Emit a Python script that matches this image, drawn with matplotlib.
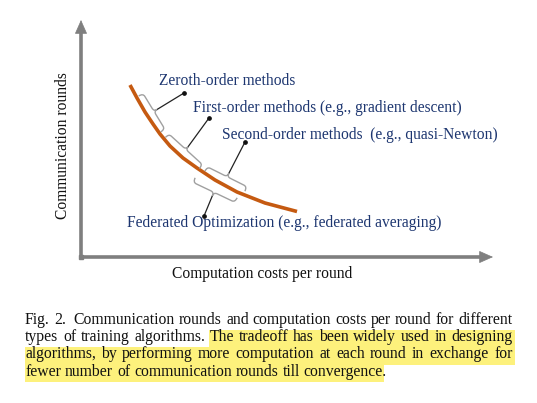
import numpy as np
import matplotlib
matplotlib.use("Agg")
import matplotlib.pyplot as plt
from matplotlib.path import Path
from matplotlib.patches import PathPatch

# schematic is drawn in pixel-like coordinates of the 537x403 picture
W, H = 537, 403
serif = "Liberation Serif"
navy = "#1d3670"
orange = "#c55a11"
axis_gray = "#7f7f7f"
brace_gray = "#a0a0a0"

# tradeoff curve
curve_x = [130, 137, 145, 153, 160, 170, 183, 197, 215, 237, 265, 297]
curve_y = [85, 98, 112, 124, 134, 146, 158, 168, 180, 192, 203, 211.5]

# method groups: brace ends, side of the curve, label dot, label position
labels = ["Zeroth-order methods",
          "First-order methods (e.g., gradient descent)",
          "Second-order methods  (e.g., quasi-Newton)",
          "Federated Optimization (e.g., federated averaging)"]
brace_start = [(137, 97), (164, 139), (204, 173), (196, 176)]
brace_end = [(159, 133), (198, 170), (244, 193), (238, 196)]
brace_side = [1, 1, 1, -1]
dot_xy = [(184, 93), (209, 118), (245, 142), (204, 216)]
label_xy = [(159, 85), (193, 112.5), (222, 139), (127, 227)]

xlabel = "Computation costs per round"
ylabel = "Communication rounds"

caption = [
    "Fig. 2.  Communication rounds and computation costs per round for different",
    "types of training algorithms. The tradeoff has been widely used in designing",
    "algorithms, by performing more computation at each round in exchange for",
    "fewer number of communication rounds till convergence.",
]
caption_base = [323.5, 341, 358.5, 376]


def brace_path(p0, p1, side, lift=2.0, h=5.0, k=3.5, r=3.5):
    p0 = np.array(p0, float)
    p1 = np.array(p1, float)
    t = (p1 - p0) / np.linalg.norm(p1 - p0)
    n = side * np.array([t[1], -t[0]])
    p0 = p0 + n * lift
    p1 = p1 + n * lift
    m = (p0 + p1) / 2
    verts = [p0,
             p0 + n * h, p0 + n * h + t * r,
             m - t * r + n * h,
             m + n * h, m + n * (h + k),
             m + n * h, m + t * r + n * h,
             p1 - t * r + n * h,
             p1 + n * h, p1]
    codes = [Path.MOVETO,
             Path.CURVE3, Path.CURVE3,
             Path.LINETO,
             Path.CURVE3, Path.CURVE3,
             Path.CURVE3, Path.CURVE3,
             Path.LINETO,
             Path.CURVE3, Path.CURVE3]
    return Path(verts, codes), m + n * (h + k)


fig = plt.figure(figsize=(W / 100, H / 100), dpi=100)
ax = fig.add_axes([0, 0, 1, 1])
ax.set_xlim(0, W)
ax.set_ylim(H, 0)
ax.axis("off")

# axes with arrows
ax.plot([81, 81], [257, 29], color=axis_gray, lw=2.6, solid_capstyle="butt")
ax.plot([81, 484], [257, 257], color=axis_gray, lw=2.6, solid_capstyle="butt")
ax.plot([81], [257], marker="s", ms=2.6, color=axis_gray)
ax.annotate("", xy=(81, 20), xytext=(81, 32),
            arrowprops=dict(arrowstyle="-|>,head_length=0.9,head_width=0.4",
                            color=axis_gray, lw=0.5, shrinkA=0, shrinkB=0,
                            mutation_scale=10))
ax.annotate("", xy=(493, 257), xytext=(481, 257),
            arrowprops=dict(arrowstyle="-|>,head_length=0.9,head_width=0.4",
                            color=axis_gray, lw=0.5, shrinkA=0, shrinkB=0,
                            mutation_scale=10))

ax.plot(curve_x, curve_y, color=orange, lw=2.6, solid_joinstyle="round",
        solid_capstyle="butt", zorder=2)

for p0, p1, side, dot in zip(brace_start, brace_end, brace_side, dot_xy):
    path, tip = brace_path(p0, p1, side)
    ax.add_patch(PathPatch(path, facecolor="none", edgecolor=brace_gray,
                           lw=1.0, zorder=3))
    ax.plot([tip[0], dot[0]], [tip[1], dot[1]], color="#222222", lw=0.9)
    ax.plot(dot[0], dot[1], "o", color="#111111", ms=2.4)

for txt, (x, y) in zip(labels, label_xy):
    ax.text(x, y, txt, family=serif, fontsize=11.2, color=navy,
            ha="left", va="baseline")

ax.text(172, 277.5, xlabel, family=serif, fontsize=11.2, color="#111111",
        ha="left", va="baseline")
ax.text(63, 146, ylabel, family=serif, fontsize=11.2, color="#111111",
        ha="center", va="center", rotation=90)

# caption, justified by hand
renderer = fig.canvas.get_renderer()


def text_width(s, fs):
    t = ax.text(0, 0, s, family=serif, fontsize=fs)
    w = t.get_window_extent(renderer).width
    t.remove()
    return w


fs = 10 * 363 / text_width(caption[3], 10)
left, right = 25, 512.5
hl_color = "#fdf17c"

for i, (line, yb) in enumerate(zip(caption, caption_base)):
    words = line.replace("  ", " \u0000 ").split(" ")
    weights = []
    toks = []
    for w in words:
        if w == "\u0000":
            weights[-1] += 1
            continue
        toks.append(w)
        weights.append(1)
    weights = weights[:-1]
    widths = [text_width(w, fs) for w in toks]
    if i < 3:
        gap = (right - left - sum(widths)) / sum(weights)
    else:
        gap = text_width("a a", fs) - 2 * text_width("a", fs)
    x = left
    xs = []
    for j, (tok, wd) in enumerate(zip(toks, widths)):
        xs.append(x)
        ax.text(x, yb, tok, family=serif, fontsize=fs, color="#111111",
                ha="left", va="baseline", zorder=3)
        if j < len(weights):
            x += wd + gap * weights[j]
    # highlight band
    top, bot = yb - 11.5, yb + 6
    if i == 1:
        x0 = xs[toks.index("The")] - 1
        x1 = right + 2
    elif i == 2:
        x0, x1 = left - 0.5, right + 2
    elif i == 3:
        x0 = left - 0.5
        x1 = xs[-1] + text_width("convergence", fs) + 0.5
    else:
        continue
    ax.fill_between([x0, x1], [top, top], [bot, bot], color=hl_color,
                    lw=0, zorder=1)

fig.savefig("out.png", dpi=100)
